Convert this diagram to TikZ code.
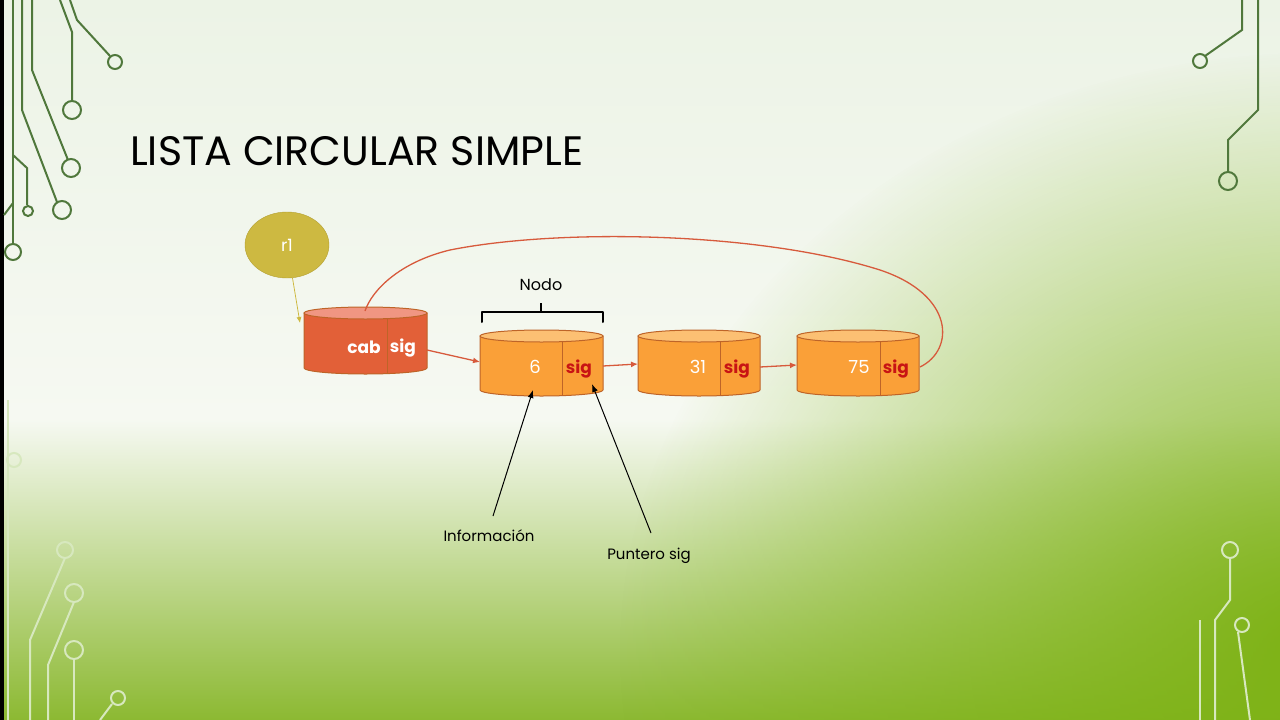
\documentclass[tikz,border=0pt]{standalone}
\usepackage{fontspec}
\setmainfont{Poppins}
\usetikzlibrary{arrows.meta,shapes.geometric,fadings}
\tikzfading[name=softc,inner color=transparent!0,outer color=transparent!100]
\definecolor{cabc}{RGB}{226,96,56}
\definecolor{cabt}{RGB}{240,150,130}
\definecolor{nodc}{RGB}{250,160,56}
\definecolor{nodt}{RGB}{252,192,115}
\definecolor{edge}{RGB}{190,100,40}
\definecolor{linkc}{RGB}{215,90,60}
\definecolor{rone}{RGB}{205,185,65}
\definecolor{ronedge}{RGB}{180,160,50}
\definecolor{circ}{RGB}{80,120,60}
\definecolor{circl}{RGB}{215,232,190}
\definecolor{sigred}{RGB}{200,20,20}
\definecolor{bgtop}{RGB}{236,243,230}
\definecolor{bgmid}{RGB}{246,249,242}
\definecolor{bgbot}{RGB}{140,185,50}
\definecolor{bgright}{RGB}{125,178,20}
\tikzset{
  lnk/.style={draw=linkc,line width=1.3pt,-{Latex[length=7pt,width=6pt]}},
  blk/.style={draw=black,line width=1pt,-{Latex[length=8pt,width=6pt]}},
  ctrace/.style={draw=circ,line width=2pt},
  ltrace/.style={draw=circl,line width=2pt},
  lbl/.style={font=\fontsize{15}{18}\selectfont,text=black}
}
\newcommand{\cyl}[7]{% x1 x2 ytop ybot xdiv body top
  \fill[#6,draw=edge,line width=1pt] (#1,#3) -- (#1,#4) arc[start angle=180,end angle=0,x radius={(#2-#1)/2},y radius=6] -- (#2,#3) -- cycle;
  \fill[#7,draw=edge,line width=1pt] ({(#1+#2)/2},#3) ellipse[x radius={(#2-#1)/2},y radius=6];
  \draw[edge,line width=1pt] (#5,{#3+6}) -- (#5,{#4+6});
}
\begin{document}
\begin{tikzpicture}[x=1pt,y=-1pt]
\useasboundingbox (0,0) rectangle (1280,720);
\shade[top color=bgtop,bottom color=bgmid] (0,0) rectangle (1280,420);
\shade[top color=bgmid,bottom color=bgbot] (0,419) rectangle (1280,720);
\begin{scope}
\clip (0,0) rectangle (1280,720);
\fill[bgright,path fading=softc] (1320,650) ellipse[x radius=700,y radius=600];
\end{scope}
\fill[black] (0,0) rectangle (4,720);
% circuits top-left
\draw[ctrace] (13,0) -- (13,244); \draw[ctrace] (13,252) circle[radius=8];
\draw[ctrace] (22,0) -- (22,110) -- (57,202); \draw[ctrace] (62,210) circle[radius=9];
\draw[ctrace] (32,0) -- (32,70) -- (68,160); \draw[ctrace] (71,168) circle[radius=9];
\draw[ctrace] (60,0) -- (72,32) -- (72,101); \draw[ctrace] (72,110) circle[radius=9];
\draw[ctrace] (70,0) -- (77,20) -- (110,56); \draw[ctrace] (115,62) circle[radius=7];
\draw[ctrace] (13,155) -- (27,168) -- (27,205); \draw[ctrace] (28,211) circle[radius=5];
\draw[ctrace] (4,215) -- (13,203);
% top-right
\draw[ctrace] (1242,0) -- (1242,30) -- (1205,56); \draw[ctrace] (1200,61) circle[radius=7];
\draw[ctrace] (1258,0) -- (1258,110) -- (1228,140) -- (1228,172); \draw[ctrace] (1228,181) circle[radius=9];
% bottom-left
\draw[ltrace] (8,400) -- (8,720); \draw[ltrace] (14,460) circle[radius=7];
\draw[ltrace] (65,558) -- (30,640) -- (30,720); \draw[ltrace] (65,550) circle[radius=8];
\draw[ltrace] (74,602) -- (48,665) -- (48,720); \draw[ltrace] (74,593) circle[radius=9];
\draw[ltrace] (74,659) -- (74,720); \draw[ltrace] (74,650) circle[radius=9];
\draw[ltrace] (112,704) -- (100,720); \draw[ltrace] (118,698) circle[radius=7];
% bottom-right
\draw[ltrace] (1230,558) -- (1230,600) -- (1215,620) -- (1215,720); \draw[ltrace] (1230,550) circle[radius=8];
\draw[ltrace] (1238,632) -- (1250,720); \draw[ltrace] (1242,625) circle[radius=7];
\draw[ltrace] (1200,620) -- (1200,720);
% title
\node[anchor=west,inner sep=0pt] (title) at (130,151) {\resizebox{453pt}{!}{\fontsize{44}{50}\selectfont LISTA CIRCULAR SIMPLE}};
% r1
\node[ellipse,fill=rone,draw=ronedge,minimum width=84pt,minimum height=66pt,inner sep=0pt,text=white,font=\fontsize{17}{20}\selectfont] (r1) at (287,245) {r1};
\coordinate (cabin) at (300,323);
% cylinders
\cyl{304}{427}{313}{368}{387}{cabc}{cabt}
\cyl{480}{603}{336}{390}{562}{nodc}{nodt}
\cyl{638}{760}{336}{390}{720}{nodc}{nodt}
\cyl{797}{919}{336}{390}{880}{nodc}{nodt}
\node[text=white,font=\bfseries\fontsize{17}{20}\selectfont] (cab) at (364,347) {cab};
\node[text=white,font=\bfseries\fontsize{17}{20}\selectfont] (cabsig) at (403,348) {sig};
\node[text=white,font=\fontsize{18}{20}\selectfont] (v6) at (535,367) {6};
\node[text=sigred,font=\bfseries\fontsize{17}{20}\selectfont] (s6) at (579,369) {sig};
\node[text=white,font=\fontsize{18}{20}\selectfont] (v31) at (698,367) {31};
\node[text=sigred,font=\bfseries\fontsize{17}{20}\selectfont] (s31) at (737,369) {sig};
\node[text=white,font=\fontsize{18}{20}\selectfont] (v75) at (859,367) {75};
\node[text=sigred,font=\bfseries\fontsize{17}{20}\selectfont] (s75) at (896,369) {sig};
\coordinate (c0o) at (427,350); \coordinate (c1i) at (480,362);
\coordinate (c1o) at (603,366); \coordinate (c2i) at (638,364);
\coordinate (c2o) at (760,367); \coordinate (c3i) at (797,365);
\coordinate (c3o) at (920,367); \coordinate (cabtop) at (365,311);
\draw[draw=rone,line width=0.8pt,-{Latex[length=6pt,width=5pt]}] (r1) -- (cabin);
\draw[lnk] (c0o) -- (c1i);
\draw[lnk] (c1o) -- (c2i);
\draw[lnk] (c2o) -- (c3i);
\draw[linkc,line width=1.3pt] (c3o) .. controls (955,350) and (955,295) .. (880,270) .. controls (760,232) and (560,228) .. (450,250) .. controls (400,262) and (372,290) .. (cabtop);
% bracket
\draw[line width=2pt,line cap=round,line join=round] (482,322) -- (482,312) -- (603,312) -- (603,322);
\draw[line width=2pt] (541,312) -- (541,303);
\node[lbl,font=\fontsize{16}{18}\selectfont] (nodo) at (541,285) {Nodo};
\node[lbl] (info) at (489,536) {Información};
\node[lbl] (punt) at (649,556) {Puntero sig};
\coordinate (i6) at (533,390); \coordinate (isig) at (592,384);
\draw[blk] (493,516) -- (i6);
\draw[blk] (651,533) -- (isig);
\end{tikzpicture}
\end{document}
